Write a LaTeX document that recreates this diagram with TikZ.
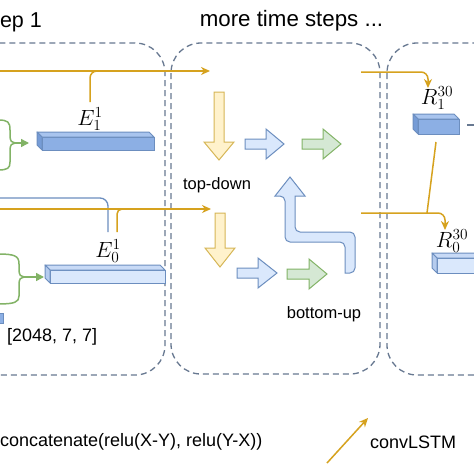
\RequirePackage{fix-cm}
\documentclass[tikz,border=0pt]{standalone}
\usepackage{fontspec}
\setmainfont{Liberation Sans}
\usetikzlibrary{arrows.meta}
\definecolor{gold}{RGB}{214,162,30}
\definecolor{dashc}{RGB}{104,121,145}
\definecolor{yfill}{RGB}{255,242,204}
\definecolor{ystroke}{RGB}{214,182,86}
\definecolor{bfill}{RGB}{218,232,252}
\definecolor{bstroke}{RGB}{108,142,191}
\definecolor{gfill}{RGB}{213,232,212}
\definecolor{gstroke}{RGB}{130,179,102}
\definecolor{dkfront}{RGB}{140,175,228}
\definecolor{dktop}{RGB}{168,196,238}
\definecolor{dkleft}{RGB}{118,156,214}
\definecolor{ltfront}{RGB}{218,232,252}
\definecolor{lttop}{RGB}{200,218,246}
\definecolor{ltleft}{RGB}{182,204,238}
\newcommand{\mycube}[8]{%
  \node[cubefront, fill=#6, minimum width=#4pt, minimum height=#5pt, anchor=north west] (#1) at (#2,#3) {};
  \draw[cubeedge, fill=#7] (#1.north west) -- ++(-5,-5) -- ([xshift=-5pt,yshift=5pt]#1.north east) -- (#1.north east) -- cycle;
  \draw[cubeedge, fill=#8] (#1.north west) -- ++(-5,-5) -- ([xshift=-5pt,yshift=5pt]#1.south west) -- (#1.south west) -- cycle;
}
\newcommand{\rblock}[6]{%
  \draw[draw=#6, fill=#5, line width=1pt] (#1,#4-5) -- (#2,#4-5) -- (#2,#4-15) -- (#3,#4) -- (#2,#4+15) -- (#2,#4+5) -- (#1,#4+5) -- cycle;}
\newcommand{\dblock}[4]{%
  \draw[draw=ystroke, fill=yfill, line width=1pt] (#1-5,#2) -- (#1+5,#2) -- (#1+5,#3) -- (#1+15,#3) -- (#1,#4) -- (#1-15,#3) -- (#1-5,#3) -- cycle;}
\begin{document}
\begin{tikzpicture}[x=1pt,y=-1pt,
  stepframe/.style={draw=dashc, line width=1.3pt, dash pattern=on 6pt off 4pt, rounded corners=30pt},
  lstm/.style={draw=gold, line width=1.5pt},
  lstmarrow/.style={lstm, -{Stealth[length=9pt,width=8pt]}},
  cubefront/.style={draw=bstroke, line width=1pt, inner sep=0pt, outer sep=0pt, rectangle},
  cubeedge/.style={draw=bstroke, line width=1pt, line join=round},
  brace/.style={draw=gstroke, line width=1.5pt},
  bracearrow/.style={draw=gstroke, line width=1.5pt, -{Triangle[length=8pt,width=8pt]}},
  txt/.style={inner sep=0pt, outer sep=0pt},
  mathlab/.style={inner sep=0pt, font=\fontsize{22}{24}\selectfont},
]
\useasboundingbox (0,0) rectangle (474,474);
\fill[white] (0,0) rectangle (474,474);

% dashed frames
\draw[stepframe] (-60,43) rectangle (165,375);
\draw[stepframe] (171,43) rectangle (380,374);
\draw[stepframe] (387,43) rectangle (540,375);

% titles
\node[txt, anchor=west, font=\fontsize{21.5}{24}\selectfont] (title1) at (0,22) {ep 1};
\node[txt, font=\fontsize{22.3}{25}\selectfont] (title2) at (291.5,21) {more time steps ...};

% cubes
\mycube{e11}{42}{137}{112}{13}{dkfront}{dktop}{dkleft}
\mycube{e01}{50}{270}{115}{13}{ltfront}{lttop}{ltleft}
\mycube{r130}{418}{119}{41}{15}{dkfront}{dktop}{dkleft}
\mycube{r030}{437}{258}{50}{15}{ltfront}{lttop}{ltleft}

% labels
\node[mathlab] (e11lab) at (90,119) {$E_1^1$};
\node[mathlab] (e01lab) at (108,251) {$E_0^1$};
\node[mathlab] (r130lab) at (437,98) {$R_1^{30}$};
\node[mathlab] (r030lab) at (452,241) {$R_0^{30}$};

% coordinates for connectors
\coordinate (inA) at (-5,71);
\coordinate (outA) at (210,71);
\coordinate (e11up) at (90,102);
\coordinate (inB) at (-5,209);
\coordinate (outB) at (211,209);
\coordinate (e01up) at (117,232);
\coordinate (inBlue) at (-5,198);
\coordinate (e01blue) at (108,232);
\coordinate (rinA) at (361,72);
\coordinate (rtipA) at (428,88);
\coordinate (rinB) at (361,213);
\coordinate (rtipB) at (445,230);
\coordinate (r1down) at (436,142);
\coordinate (rjoin) at (427,213);

% convLSTM lines left
\draw[lstmarrow] (inA) -- (outA);
\draw[lstm, rounded corners=7pt] (e11up) -- (90,71) -- (125,71);
\draw[draw=bstroke, line width=1.3pt, rounded corners=8pt] (inBlue) -- (108,198) -- (e01blue);
\draw[lstmarrow] (inB) -- (outB);
\draw[lstm, rounded corners=5pt] (e01up) -- (117,209) -- (140,209);

% convLSTM lines right
\draw[lstmarrow, rounded corners=7pt] (rinA) -- (428,72) -- (rtipA);
\draw[lstmarrow, rounded corners=7pt] (rinB) -- (445,213) -- (rtipB);
\draw[lstm] (r1down) -- (rjoin);
\draw[draw=dashc, line width=1.3pt] (467,125) -- (476,125);

% braces
\draw[brace] (-2,120) .. controls (8,120) and (10,122) .. (10,130) -- (10,136) .. controls (10,141) and (12,143) .. (15,143) .. controls (12,143) and (10,145) .. (10,150) -- (10,162) .. controls (10,168) and (8,170) .. (-2,170);
\coordinate (br1) at (15,143);
\coordinate (br1t) at (29,143);
\draw[bracearrow] (br1) -- (br1t);
\draw[brace] (-2,254) .. controls (15,254) and (19,256) .. (19,264) -- (19,270) .. controls (19,275) and (21,277) .. (24,277) .. controls (21,277) and (19,279) .. (19,284) -- (19,296) .. controls (19,302) and (15,304) .. (-2,304);
\coordinate (br2) at (24,277);
\coordinate (br2t) at (44,277);
\draw[bracearrow] (br2) -- (br2t);

% small partial box at left
\fill[dkfront] (-5,313) rectangle (3,323);
\draw[bstroke, line width=1pt] (-5,313) rectangle (3,323);

\node[txt, anchor=west, font=\fontsize{18}{21}\selectfont] (shape) at (7,337) {[2048, 7, 7]};

% block arrows in middle
\dblock{219}{92}{142}{160}
\rblock{245}{266}{284}{144}{bfill}{bstroke}
\rblock{302}{323}{341}{144}{gfill}{gstroke}
\dblock{220}{213}{248}{267}
\rblock{237}{258}{277}{273}{bfill}{bstroke}
\rblock{287}{309}{327}{274}{gfill}{gstroke}
\draw[draw=bstroke, fill=bfill, line width=1pt] (290,177) -- (305,196) -- (295,196) [rounded corners=5pt] -- (295,232) -- (355,232) -- (355,273) [sharp corners] -- (345,273) [rounded corners=5pt] -- (345,242) -- (285,242) -- (285,196) [sharp corners] -- (275,196) -- cycle;

\node[txt, font=\fontsize{16.5}{19}\selectfont] (td) at (217,185) {top-down};
\node[txt, font=\fontsize{16.5}{19}\selectfont] (bu) at (324,314) {bottom-up};

% legend
\node[txt, anchor=west, font=\fontsize{18}{21}\selectfont] (leg1) at (0,442) {concatenate(relu(X-Y), relu(Y-X))};
\coordinate (legA) at (327,463);
\coordinate (legB) at (368,418);
\draw[lstmarrow] (legA) -- (legB);
\node[txt, anchor=west, font=\fontsize{18}{21}\selectfont] (leg2) at (370,442) {convLSTM};
\end{tikzpicture}
\end{document}
